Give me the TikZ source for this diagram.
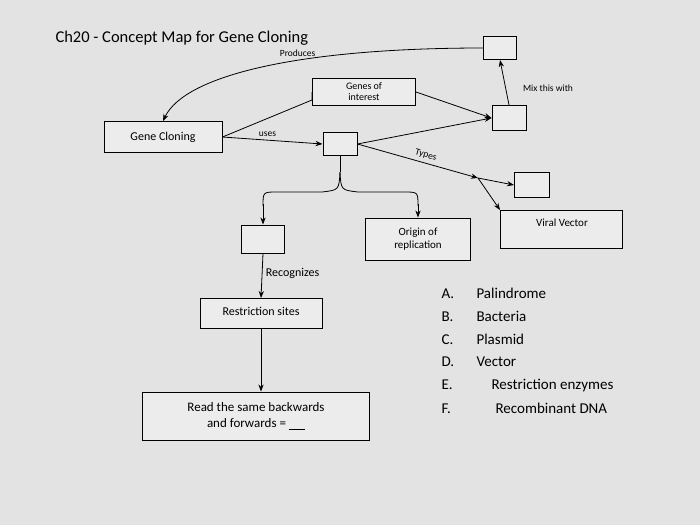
\documentclass[tikz,border=0pt]{standalone}
\usepackage{fontspec}
\setmainfont{Carlito}
\usetikzlibrary{arrows.meta}
\begin{document}
\begin{tikzpicture}[x=1pt,y=-1pt,
  bx/.style={draw,line width=1pt,fill=white!85!gray,inner sep=0pt,font=\fontsize{12}{14}\selectfont,align=center},
  ar/.style={line width=0.8pt,-{Stealth[length=7pt]}},
  ln/.style={line width=0.8pt},
  lab/.style={font=\fontsize{9.5}{11}\selectfont},
  lst/.style={anchor=base west,font=\fontsize{15}{17}\selectfont}]
\fill[gray!22] (0,0) rectangle (700,525);
\useasboundingbox (0,0) rectangle (700,525);
\node[anchor=west,font=\fontsize{16.5}{19}\selectfont] (title) at (52,38) {Ch20 - Concept Map for Gene Cloning};
\node[bx,minimum width=33,minimum height=23] (top) at (500,48) {};
\node[bx,minimum width=103,minimum height=27,font=\fontsize{10}{11}\selectfont] (goi) at (364,92) {Genes of\\interest};
\node[bx,minimum width=34,minimum height=25] (mix) at (509,118) {};
\node[bx,minimum width=118,minimum height=31] (gc) at (163,137) {Gene Cloning};
\node[bx,minimum width=34,minimum height=23] (uses) at (340,144) {};
\node[bx,minimum width=35,minimum height=25] (vb) at (532,185) {};
\node[bx,minimum width=122,minimum height=38,anchor=north west] (vv) at (500,210) {};
\node[font=\fontsize{11}{13}\selectfont] (vvl) at (562,223) {Viral Vector};
\node[bx,minimum width=43,minimum height=28] (lb) at (263,239) {};
\node[bx,minimum width=105,minimum height=42,font=\fontsize{11}{13}\selectfont] (ori) at (418,239) {Origin of\\replication};
\node[bx,minimum width=122,minimum height=30,anchor=north] (rs) at (261,298) {};
\node[font=\fontsize{12}{14}\selectfont] (rsl) at (261,311) {Restriction sites};
\node[bx,minimum width=227,minimum height=48,font=\fontsize{13}{16}\selectfont] (rd) at (256,416) {Read the same backwards\\and forwards = \underline{\hspace{16pt}}};
% connectors
\draw[ar] (top.west) .. controls (300,48) and (185,75) .. (gc.north) node[lab,pos=0.4,above] {Produces};
\draw[ar] (mix.north) -- (top.south);
\node[lab] (mixl) at (548,88) {Mix this with};
\draw[ln] (gc.east) -- (goi.west |- 0,100) -- (goi.west);
\draw[ar] (goi.east) -- (mix.west);
\draw[ar] (gc.east) -- (uses.west) node[lab,pos=0.45,above] {uses};
\draw[ar] (uses.east) -- (mix.west);
\coordinate (split) at (478,178);
\draw[ar] (uses.east) -- (split) node[lab,pos=0.55,above,sloped] {Types};
\draw[ar] (split) -- (vb.west);
\draw[ar] (split) -- (vv.north west);
\draw[ln] (uses.south) -- (340,172);
\draw[ln] (340,172) .. controls (339,190) .. (322,192) -- (277,192) .. controls (263,192) .. (263,206);
\draw[ar] (263,204) -- (lb.north);
\draw[ln] (340,172) .. controls (341,190) .. (358,192) -- (404,192) .. controls (418,192) .. (418,206);
\draw[ar] (418,204) -- (ori.north);
\draw[ar] (lb.south) -- (rs.north) node[font=\fontsize{12}{14}\selectfont,pos=0.45,right] {Recognizes};
\draw[ar] (rs.south) -- (rs.south |- rd.north);
\foreach \l/\t/\x/\y in {A/Palindrome/473/298,B/Bacteria/473/321,C/Plasmid/473/344,D/Vector/473/366,E/Restriction enzymes/488/389,F/Recombinant DNA/492/413}{
  \node[lst] (l\l) at (438,\y) {\l.};
  \node[lst] (t\l) at (\x,\y) {\t};
}
\end{tikzpicture}
\end{document}
